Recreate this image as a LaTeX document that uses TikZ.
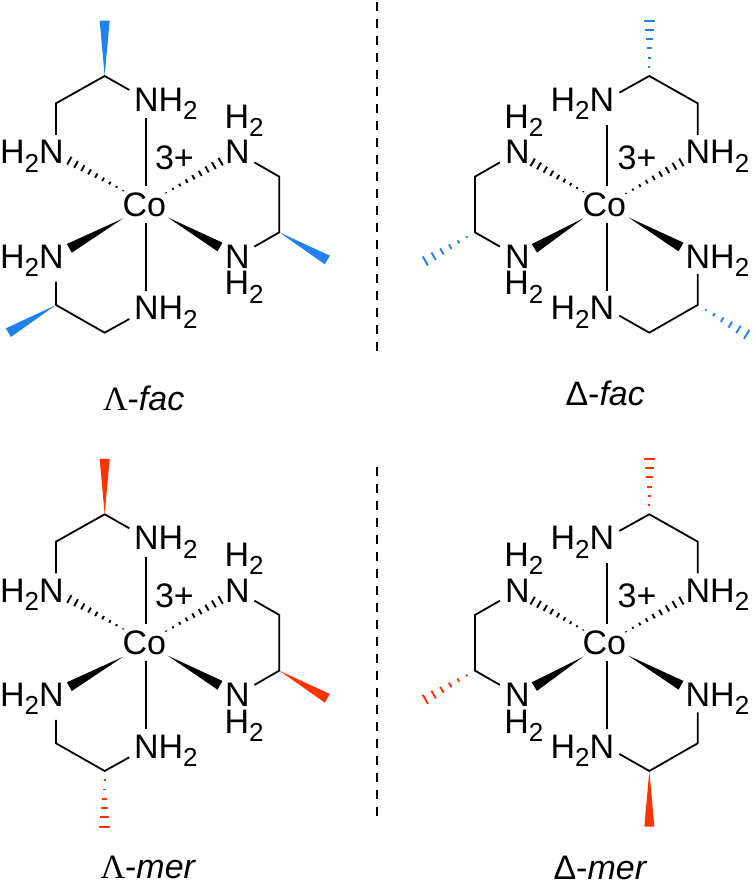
\documentclass[tikz,border=0pt]{standalone}
\usepackage{fontspec}
\setmainfont{Liberation Sans}
\newfontfamily\capserif{Liberation Serif}
\usetikzlibrary{calc}
\definecolor{fblue}{HTML}{1F82EE}
\definecolor{mred}{HTML}{FF3300}
\newcommand{\subtwo}{\raisebox{-8.3pt}{\fontsize{26}{26}\selectfont 2}}
\tikzset{
  atom/.style={inner sep=0pt,outer sep=0pt,anchor=base west,font=\fontsize{34}{34}\selectfont},
  caption/.style={inner sep=0pt,outer sep=0pt,anchor=base west,font=\fontsize{34}{34}\selectfont},
  bond/.style={line width=1.8pt,black,line cap=butt,line join=miter},
  divider/.style={line width=2.1pt,black,dash pattern=on 9pt off 8pt}
}
% solid wedge: tip, base, half width, colour
\newcommand{\WedgeBond}[4]{\fill[#4] (#1) -- ($(#2)!#3!90:(#1)$) -- ($(#2)!#3!-90:(#1)$) -- cycle;}
% hashed wedge: apex, end, strokes, half width in pt, colour
\newcommand{\HashBond}[5]{%
  \foreach \hk in {1,...,#3}{%
    \pgfmathsetmacro{\hashT}{\hk/#3}%
    \pgfmathsetmacro{\hashW}{#4*\hk/#3}%
    \coordinate (hp) at ($(#1)!\hashT!(#2)$);
    \draw[line width=1.9pt,#5] ($(hp)!\hashW pt!90:(#1)$) -- ($(hp)!\hashW pt!-90:(#1)$);
  }%
}
% Lambda skeleton
\newcommand{\LamMol}[3]{%
\begin{scope}[shift={(#2pt,#3pt)},x=0.33333pt,y=-0.33333pt]
  \node[atom] (#1co) at (368,650) {Co};
  \node[atom] (#1chg) at (465,508) {3+};
  \node[atom] (#1nt) at (402,335) {NH\subtwo};
  \node[atom] (#1nb) at (402,960) {NH\subtwo};
  \node[atom] (#1nul) at (0,492) {H\subtwo N};
  \node[atom] (#1nll) at (0,805) {H\subtwo N};
  \node[atom] (#1nur) at (675,492) {N};
  \node[atom] (#1hur) at (674,385) {H\subtwo};
  \node[atom] (#1nlr) at (675,805) {N};
  \node[atom] (#1hlr) at (674,885) {H\subtwo};
  \coordinate (#1cm) at (439,618);
  \coordinate (#1c1) at (314,228); \coordinate (#1c2) at (168,310);
  \coordinate (#1c3) at (838,530); \coordinate (#1c4) at (838,697);
  \coordinate (#1c5) at (168,915); \coordinate (#1c6) at (314,998);
  \coordinate (#1e1) at (388,270); \coordinate (#1e2) at (168,405);
  \coordinate (#1e3) at (763,487); \coordinate (#1e4) at (763,740);
  \coordinate (#1e5) at (168,845); \coordinate (#1e6) at (388,957);
  \coordinate (#1vt) at (439,355); \coordinate (#1vta) at (439,558);
  \coordinate (#1vb) at (439,668); \coordinate (#1vba) at (439,872);
  \coordinate (#1hla) at (390,583); \coordinate (#1hlb) at (208,482);
  \coordinate (#1hra) at (478,590); \coordinate (#1hrb) at (662,485);
  \coordinate (#1wla) at (370,655); \coordinate (#1wlb) at (208,745);
  \coordinate (#1wra) at (503,652); \coordinate (#1wrb) at (660,741);
  \coordinate (#1mt) at (314,62); \coordinate (#1mr) at (982,780);
  \coordinate (#1mbl) at (25,998); \coordinate (#1mbc) at (314,1165);
  \draw[bond] (#1e1) -- (#1c1) -- (#1c2) -- (#1e2);
  \draw[bond] (#1e3) -- (#1c3) -- (#1c4) -- (#1e4);
  \draw[bond] (#1e5) -- (#1c5) -- (#1c6) -- (#1e6);
  \draw[bond] (#1vt) -- (#1vta);
  \draw[bond] (#1vb) -- (#1vba);
  \HashBond{#1hla}{#1hlb}{9}{4.4}{black}
  \HashBond{#1hra}{#1hrb}{9}{4.4}{black}
  \WedgeBond{#1wla}{#1wlb}{5pt}{black}
  \WedgeBond{#1wra}{#1wrb}{5pt}{black}
\end{scope}}
% Delta skeleton
\newcommand{\DelMol}[3]{%
\begin{scope}[shift={(#2pt,#3pt)},x=0.33333pt,y=-0.33333pt]
  \node[atom] (#1co) at (620,650) {Co};
  \node[atom] (#1chg) at (725,508) {3+};
  \node[atom] (#1nt) at (524,335) {H\subtwo N};
  \node[atom] (#1nb) at (524,960) {H\subtwo N};
  \node[atom] (#1nur) at (929,492) {NH\subtwo};
  \node[atom] (#1nlr) at (929,805) {NH\subtwo};
  \node[atom] (#1nul) at (387,492) {N};
  \node[atom] (#1hul) at (385,385) {H\subtwo};
  \node[atom] (#1nll) at (387,805) {N};
  \node[atom] (#1hll) at (385,885) {H\subtwo};
  \coordinate (#1c1) at (820,228); \coordinate (#1c2) at (965,310);
  \coordinate (#1c3) at (297,530); \coordinate (#1c4) at (297,697);
  \coordinate (#1c5) at (965,915); \coordinate (#1c6) at (820,998);
  \coordinate (#1e1) at (730,278); \coordinate (#1e2) at (965,405);
  \coordinate (#1e3) at (372,487); \coordinate (#1e4) at (372,740);
  \coordinate (#1e5) at (965,822); \coordinate (#1e6) at (730,947);
  \coordinate (#1vt) at (693,375); \coordinate (#1vta) at (693,558);
  \coordinate (#1vb) at (693,668); \coordinate (#1vba) at (693,872);
  \coordinate (#1hla) at (641,586); \coordinate (#1hlb) at (470,487);
  \coordinate (#1hra) at (729,592); \coordinate (#1hrb) at (916,487);
  \coordinate (#1wla) at (622,655); \coordinate (#1wlb) at (475,745);
  \coordinate (#1wra) at (757,652); \coordinate (#1wrb) at (915,741);
  \coordinate (#1mt) at (820,62); \coordinate (#1ml) at (148,783);
  \coordinate (#1mbr) at (1112,1003); \coordinate (#1mbc) at (820,1165);
  \draw[bond] (#1e1) -- (#1c1) -- (#1c2) -- (#1e2);
  \draw[bond] (#1e3) -- (#1c3) -- (#1c4) -- (#1e4);
  \draw[bond] (#1e5) -- (#1c5) -- (#1c6) -- (#1e6);
  \draw[bond] (#1vt) -- (#1vta);
  \draw[bond] (#1vb) -- (#1vba);
  \HashBond{#1hla}{#1hlb}{9}{4.4}{black}
  \HashBond{#1hra}{#1hrb}{9}{4.4}{black}
  \WedgeBond{#1wla}{#1wlb}{5pt}{black}
  \WedgeBond{#1wra}{#1wrb}{5pt}{black}
\end{scope}}
\begin{document}
\begin{tikzpicture}[x=1pt,y=-1pt]
  \useasboundingbox (0,0) rectangle (752,882);
  \fill[white] (0,0) rectangle (752,882);
  \coordinate (d1s) at (376.7,2); \coordinate (d1e) at (376.7,356);
  \coordinate (d2s) at (376.7,466.7); \coordinate (d2e) at (376.7,821);
  \draw[divider] (d1s) -- (d1e);
  \draw[divider] (d2s) -- (d2e);

  \LamMol{a}{0}{0}
  \WedgeBond{ac1}{amt}{5pt}{fblue}
  \WedgeBond{ac4}{amr}{5pt}{fblue}
  \WedgeBond{ac5}{ambl}{5pt}{fblue}

  \DelMol{b}{376}{0}
  \HashBond{bc1}{bmt}{6}{5.2}{fblue}
  \HashBond{bc4}{bml}{6}{5.2}{fblue}
  \HashBond{bc5}{bmbr}{6}{5.2}{fblue}

  \LamMol{c}{0}{-438.3}
  \WedgeBond{cc1}{cmt}{5pt}{mred}
  \WedgeBond{cc4}{cmr}{5pt}{mred}
  \HashBond{cc6}{cmbc}{6}{5.2}{mred}

  \DelMol{d}{376}{-438.3}
  \HashBond{dc1}{dmt}{6}{5.2}{mred}
  \HashBond{dc4}{dml}{6}{5.2}{mred}
  \WedgeBond{dc6}{dmbc}{5pt}{mred}

  \node[caption] (capa) at (103,410.7) {{\capserif Λ}-\textit{fac}};
  \node[caption] (capb) at (565.5,405) {Δ-\textit{fac}};
  \node[caption] (capc) at (100.5,878.3) {{\capserif Λ}-\textit{mer}};
  \node[caption] (capd) at (553.5,879) {Δ-\textit{mer}};
\end{tikzpicture}
\end{document}
